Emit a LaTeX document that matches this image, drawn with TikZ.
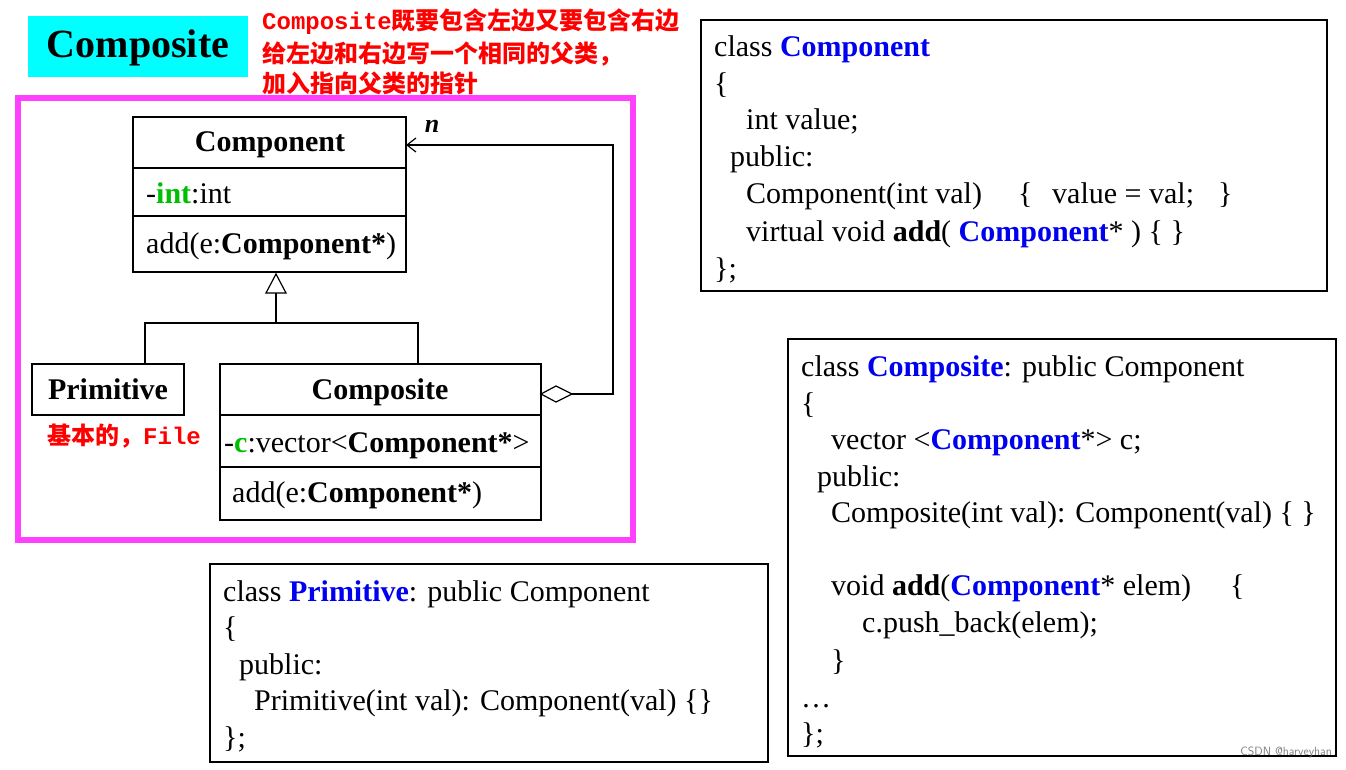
\documentclass[tikz,border=0pt]{standalone}
\usepackage{fontspec}
\setmainfont{Liberation Serif}
\newfontfamily\cjk{Noto Sans CJK SC}
\newfontfamily\monof{Liberation Mono}
\usetikzlibrary{arrows.meta}
\definecolor{cyanbg}{RGB}{0,255,255}
\definecolor{mag}{RGB}{255,64,255}
\definecolor{grn}{RGB}{0,190,0}
\definecolor{blu}{RGB}{0,0,240}
\begin{document}
\begin{tikzpicture}[x=1pt,y=-1pt,
  code/.style={anchor=base west,inner sep=0,font=\fontsize{30}{34}\selectfont},
  uml/.style={anchor=base,inner sep=0,font=\fontsize{30}{34}\selectfont},
  cn/.style={anchor=base west,inner sep=0,text=red,font=\fontsize{24}{28}\selectfont\bfseries},
  box/.style={draw,line width=1.2pt},
  line/.style={line width=1.2pt}]
\useasboundingbox (0,0) rectangle (1346,770);
% title
\fill[cyanbg] (28,16) rectangle (248,77);
\node[anchor=center,font=\fontsize{40}{44}\selectfont\bfseries] (title) at (138,48) {Composite};
\node[cn] (n1) at (262,30) {{\monof Composite}{\cjk 既要包含左边又要包含右边}};
\node[cn] (n2) at (262,63) {{\cjk 给左边和右边写一个相同的父类，}};
\node[cn] (n3) at (262,93) {{\cjk 加入指向父类的指针}};
% frame
\draw[mag,line width=6pt] (18,98) rectangle (633,540);
% Component class
\draw[box] (133,117) rectangle (406,272);
\draw[line] (133,168) -- (406,168) (133,216) -- (406,216);
\node[uml] (cT) at (270,152) {\textbf{Component}};
\node[code] (cA) at (146,204) {-\textbf{\color{grn}int}:int};
\node[code] (cM) at (146,253) {add(e:\textbf{Component*})};
\coordinate (cTop) at (406,145);
% Primitive
\draw[box] (32,364) rectangle (184,415);
\node[uml] (pT) at (108,399) {\textbf{Primitive}};
\node[cn] (pN) at (47,444) {{\cjk 基本的，}{\monof File}};
% Composite
\draw[box] (220,364) rectangle (541,520);
\draw[line] (220,415) -- (541,415) (220,467) -- (541,467);
\node[uml] (kT) at (380,399) {\textbf{Composite}};
\node[code] (kA) at (224,452) {-\textbf{\color{grn}c}:vector<\textbf{Component*}>};
\node[code] (kM) at (232,502) {add(e:\textbf{Component*})};
% inheritance
\draw[line,fill=white] (276,274) -- (266,293) -- (286,293) -- cycle;
\draw[line] (276,293) -- (276,323) (145,364) -- (145,323) -- (418,323) -- (418,364);
% aggregation
\draw[line,fill=white] (541,394) -- (556,386) -- (572,394) -- (556,402) -- cycle;
\draw[line,-{Straight Barb[length=9pt,width=14pt]}] (572,394) -- (613,394) -- (613,145) -- (cTop);
\node[anchor=base,inner sep=0,font=\fontsize{26}{28}\selectfont\bfseries\itshape] (nn) at (432,133) {n};
% code box 1
\draw[line] (701,20) rectangle (1327,291);
\node[code] at (714,57) {class \textbf{\color{blu}Component}};
\node[code] at (714,94) {\{};
\node[code] at (746,130) {int value;};
\node[code] at (730,167) {public:};
\node[code] at (746,204) {Component(int val)};
\node[code] at (1018,204) {\{};
\node[code] at (1052,204) {value = val;};
\node[code] at (1218,204) {\}};
\node[code] at (746,241) {virtual void \textbf{add}( \textbf{\color{blu}Component}* ) \{ \}};
\node[code] at (714,278) {\};};
% code box 2
\draw[line] (788,339) rectangle (1336,756);
\node[code] at (801,376) {class \textbf{\color{blu}Composite}: public Component};
\node[code] at (801,413) {\{};
\node[code] at (831,449) {vector <\textbf{\color{blu}Component}*> c;};
\node[code] at (817,486) {public:};
\node[code] at (831,522) {Composite(int val): Component(val) \{ \}};
\node[code] at (831,595) {void \textbf{add}(\textbf{\color{blu}Component}* elem)};
\node[code] at (1230,595) {\{};
\node[code] at (862,632) {c.push\_back(elem);};
\node[code] at (831,670) {\}};
\node[code] at (801,707) {…};
\node[code] at (801,743) {\};};
% code box 3
\draw[line] (210,564) rectangle (768,762);
\node[code] at (223,601) {class \textbf{\color{blu}Primitive}: public Component};
\node[code] at (223,637) {\{};
\node[code] at (239,674) {public:};
\node[code] at (254,710) {Primitive(int val): Component(val) \{\}};
\node[code] at (223,747) {\};};
\node[anchor=east,inner sep=0,text=gray,font=\sffamily\fontsize{12}{14}\selectfont] at (1332,752) {CSDN @harveyhan};
\end{tikzpicture}
\end{document}
